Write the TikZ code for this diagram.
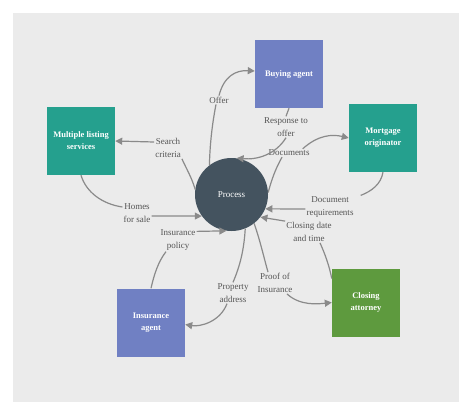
\documentclass[tikz,border=0pt]{standalone}
\usepackage{fontspec}
\setmainfont{Liberation Serif}
\usetikzlibrary{arrows.meta}
\definecolor{bgc}{HTML}{EBEBEB}
\definecolor{tealc}{HTML}{25A08E}
\definecolor{bluec}{HTML}{7080C3}
\definecolor{greenc}{HTML}{5E9A3E}
\definecolor{procc}{HTML}{44535F}
\definecolor{linec}{HTML}{8A8A8A}
\definecolor{labc}{HTML}{555555}
\begin{document}
\begin{tikzpicture}[x=1pt,y=-1pt,
  box/.style={rectangle, minimum size=68pt, inner sep=0pt, text=white,
    font=\fontsize{8.5}{12}\selectfont\bfseries, align=center},
  proc/.style={circle, minimum size=73pt, inner sep=0pt, fill=procc, text=white,
    font=\fontsize{9}{12}\selectfont},
  lbl/.style={text=labc, font=\fontsize{9}{13}\selectfont, align=center, inner sep=1pt},
  conn/.style={draw=linec, line width=1.2pt},
  arr/.style={-{Triangle[length=7pt,width=7pt]}, }
]
\useasboundingbox (0,0) rectangle (474,415);
\fill[white] (0,0) rectangle (474,415);
\fill[bgc] (13,13) rectangle (459,402);

% boxes
\node[box, fill=bluec]  (BA)  at (289,74)    {Buying agent};
\node[box, fill=tealc]  (MLS) at (81,141)    {Multiple listing\\services};
\node[box, fill=tealc]  (MO)  at (383,138)   {Mortgage\\originator};
\node[box, fill=bluec]  (IA)  at (151,322.5) {Insurance\\agent};
\node[box, fill=greenc] (CA)  at (366,302.5) {Closing\\attorney};
\node[proc] (P) at (231.5,194.5) {Process};

% labels
\node[lbl] (offer)   at (219,100) {Offer};
\node[lbl] (resp)    at (286,127) {Response to\\offer};
\node[lbl] (search)  at (168,148) {Search\\criteria};
\node[lbl] (docs)    at (289,153) {Documents};
\node[lbl] (docreq)  at (330,207) {Document\\requirements};
\node[lbl] (homes)   at (137,213) {Homes\\for sale};
\node[lbl] (closing) at (309,232) {Closing date\\and time};
\node[lbl] (inspol)  at (178,240) {Insurance\\policy};
\node[lbl] (prop)    at (233,293) {Property\\address};
\node[lbl] (proof)   at (275,283) {Proof of\\Insurance};

% connectors
\draw[conn] (P.127) .. controls (210,140) and (213,120) .. ([xshift=-3pt]offer.south);
\draw[conn,arr] (offer.north) .. controls (224,76) and (236,70) .. ([yshift=3pt]BA.west);

\draw[conn] (BA.south) -- (resp.north);
\draw[conn,arr] (resp.south) .. controls (276,154) and (258,160) .. (P.82);

\draw[conn] (P.172) .. controls (192,178) and (186,168) .. (search.south east);
\draw[conn,arr] ([yshift=6pt]search.west) -- (MLS.east);

\draw[conn] (MLS.south) .. controls (86,192) and (102,204) .. ([yshift=6pt]homes.west);
\draw[conn,arr] ([yshift=-3pt]homes.east) -- (P.216);

\draw[conn] (IA.north) .. controls (154,275) and (158,262) .. ([xshift=-12pt]inspol.south);
\draw[conn,arr] ([yshift=-3pt]inspol.north east) -- (P.262);

\draw[conn] (P.292) .. controls (244,250) and (240,266) .. (prop.north);
\draw[conn,arr] ([xshift=-6pt]prop.south) .. controls (220,322) and (200,327) .. ([yshift=-2pt]IA.east);

\draw[conn] (P.308) .. controls (260,240) and (264,258) .. ([xshift=-7pt]proof.north);
\draw[conn,arr] ([xshift=12pt]proof.south) .. controls (300,306) and (318,304) .. (CA.west);

\draw[conn] (CA.145) .. controls (329,265) and (325,254) .. ([xshift=11pt]closing.south);
\draw[conn,arr] (closing.north west) -- (P.322);

\draw[conn] (MO.south) .. controls (381,184) and (372,191) .. ([xshift=6pt]docreq.north east);
\draw[conn,arr] ([yshift=-2pt]docreq.west) -- (P.337);

\draw[conn] (P.3) .. controls (272,178) and (276,168) .. ([xshift=-7pt]docs.south);
\draw[conn,arr] ([xshift=-8pt]docs.north east) .. controls (318,135) and (332,134) .. (MO.west);
\end{tikzpicture}
\end{document}
